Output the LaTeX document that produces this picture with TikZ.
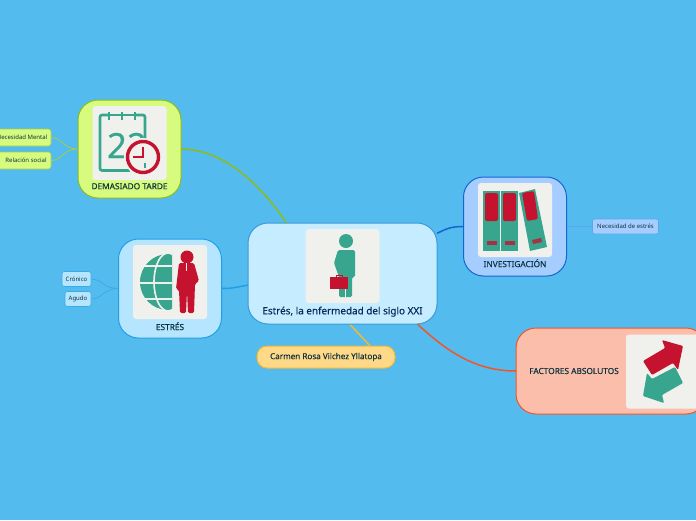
\documentclass[tikz,border=0pt]{standalone}
\usepackage{fontspec}
\setmainfont{Noto Sans}
\newfontfamily\heavyfont[FakeBold=0.25]{Noto Sans}
\usetikzlibrary{positioning, backgrounds}
\definecolor{skybg}{HTML}{54BBEE}
\definecolor{iconbg}{HTML}{F0F1ED}
\definecolor{tealicon}{HTML}{38A58E}
\definecolor{redicon}{HTML}{C5122F}
\definecolor{darktext}{HTML}{0D3340}
\definecolor{navytext}{HTML}{0B2A5B}
\definecolor{limefill}{RGB}{214,251,127}
\definecolor{limeline}{RGB}{141,187,26}
\definecolor{limethin}{RGB}{164,204,69}
\definecolor{paleblue}{RGB}{182,230,255}
\definecolor{skyline}{RGB}{31,160,230}
\definecolor{skythin}{RGB}{56,172,232}
\definecolor{bluefill}{RGB}{166,205,255}
\definecolor{blueline}{RGB}{21,101,208}
\definecolor{bluethin}{RGB}{90,167,238}
\definecolor{peachfill}{RGB}{251,190,170}
\definecolor{orangeline}{RGB}{240,86,42}
\definecolor{amberfill}{RGB}{255,217,136}
\definecolor{amberline}{RGB}{245,184,46}
\definecolor{mainfill}{RGB}{197,236,255}
\definecolor{mainline}{RGB}{59,154,216}
\tikzset{
    topicbox/.style={
        draw,
        line width=1pt,
        rounded corners=20pt,
        minimum width=#1,
        outer sep=0pt,
        inner sep=0pt
    },
    topicbox/.default=103pt,
    iconbox/.style={
        fill=iconbg,
        rounded corners=3pt,
        minimum width=74pt,
        minimum height=74pt,
        inner sep=0pt,
        outer sep=0pt
    },
    subbox/.style={
        draw,
        line width=0.6pt,
        rounded corners=2.5pt,
        text=darktext,
        font=\fontsize{6}{7}\selectfont,
        inner sep=0pt,
        outer sep=0pt,
        minimum height=15pt
    },
    toplabel/.style={font=\heavyfont\fontsize{8.3}{10}\selectfont, text=darktext, inner sep=0pt},
    link/.style={line width=1.5pt},
    sublink/.style={line width=0.8pt}
}
\begin{document}
\begin{tikzpicture}[x=1pt, y=-1pt]
\useasboundingbox (0,0) rectangle (696,520);

% main boxes
\node[topicbox=189pt, minimum height=101pt, fill=mainfill, draw=mainline] (central) at (342.5,273.5) {};
\node[topicbox, minimum height=98pt, fill=limefill, draw=limeline] (tarde) at (129.5,149) {};
\node[topicbox, minimum height=99pt, fill=paleblue, draw=skyline] (estres) at (170,288.5) {};
\node[topicbox, minimum height=99pt, fill=bluefill, draw=blueline] (investigacion) at (515,226.5) {};
\node[topicbox=190pt, minimum height=86pt, fill=peachfill, draw=orangeline] (factores) at (611,371) {};
\node[draw=amberline, line width=1pt, fill=amberfill, rounded corners=10pt, minimum width=138pt, minimum height=22pt, inner sep=0pt, outer sep=0pt, text=darktext, font=\heavyfont\fontsize{8.1}{10}\selectfont] (autora) at (326,357) {Carmen Rosa Vilchez Yllatopa};

% small boxes
\node[subbox, fill=limefill, draw=limethin, minimum width=70pt, minimum height=17pt] (mental) at (16,137.5) {\hspace*{12pt}Necesidad Mental};
\node[subbox, fill=limefill, draw=limethin, minimum width=70pt, minimum height=17pt] (social) at (16,160.5) {\hspace*{20pt}Relación social};
\node[subbox, fill=paleblue, draw=skythin, minimum width=29pt] (cronico) at (76.5,279) {Crónico};
\node[subbox, fill=paleblue, draw=skythin, minimum width=26pt, below=5pt of cronico.south east, anchor=north east] (agudo) {Agudo};
\node[subbox, fill=bluefill, draw=bluethin, minimum width=66pt, right=26pt of investigacion] (necesidad) {Necesidad de estrés};

% connectors
\begin{scope}[on background layer]
\fill[skybg] (0,0) rectangle (696,520);
\draw[link, limeline] (tarde.east) .. controls +(40,0) and +(-28,-42) .. (central.138.7);
\draw[link, skyline] (estres.east) .. controls +(12,0) and +(-12,2) .. (central.187.5);
\draw[link, blueline] (central.23.7) .. controls +(10,-5) and +(-12,0) .. (investigacion.west);
\draw[link, orangeline] (central.-34.9) .. controls +(30,28) and +(-40,0) .. (factores.west);
\draw[link, amberline] (central.-82.7) -- (autora.14.3);
\draw[sublink, limethin] (tarde.west) .. controls +(-16,0) and +(12,0) .. (mental.east);
\draw[sublink, limethin] (tarde.west) .. controls +(-16,0) and +(12,0) .. (social.east);
\draw[sublink, skythin] (estres.west) .. controls +(-16,0) and +(12,0) .. (cronico.east);
\draw[sublink, skythin] (estres.west) .. controls +(-16,0) and +(12,0) .. (agudo.east);
\draw[sublink, bluethin] (investigacion.east) -- (necesidad.west);
\end{scope}

% icon tiles and captions
\node[iconbox, below=6pt of central.north] (iconcentral) {};
\node[iconbox, below=6pt of tarde.north] (icontarde) {};
\node[iconbox, below=6pt of estres.north] (iconestres) {};
\node[iconbox, below=6pt of investigacion.north] (iconinvestigacion) {};
\node[iconbox, anchor=east] (iconfactores) at (700,371.5) {};
\node[toplabel, font=\heavyfont\fontsize{9.9}{12}\selectfont, text=navytext, below=3.5pt of iconcentral] (textcentral) {Estrés, la enfermedad del siglo XXI};
\node[toplabel, below=3pt of icontarde] (texttarde) {DEMASIADO TARDE};
\node[toplabel, below=3pt of iconestres] (textestres) {ESTRÉS};
\node[toplabel, below=2pt of iconinvestigacion] (textinvestigacion) {INVESTIGACIÓN};
\node[toplabel] (textfactores) at (574,371) {FACTORES ABSOLUTOS};

% person with case
\fill[tealicon] (346,241) circle (7);
\fill[tealicon, rounded corners=1.5pt] (338,250) -- (355,250) -- (355,277) -- (352,277) -- (352,297) -- (339,297) -- (339,277) -- (334,263) -- cycle;
\draw[iconbg, line width=0.5pt] (345.5,277) -- (345.5,297);
\fill[redicon] (330,277) rectangle (348,289);
\draw[redicon, line width=0.8pt] (336,277) -- (336,275) -- (342,275) -- (342,277);

% calendar
\draw[tealicon, line width=2.6pt, rounded corners=2pt] (109,115) -- (100,115) -- (100,170.5) -- (130,170.5);
\draw[tealicon, line width=2.6pt, rounded corners=2pt] (135,115) -- (145,115) -- (145,140);
\draw[tealicon, line width=2pt] (109,115) -- (135,115);
\foreach \ringx in {109,122,135}
    \draw[tealicon, line width=1.6pt] (\ringx,111.5) -- (\ringx,120);
\node[text=tealicon, font=\heavyfont\fontsize{35}{35}\selectfont, inner sep=0pt] (datenum) at (127,145.5) {22};
\fill[iconbg] (143,157) circle (19);
\draw[redicon, line width=3.4pt] (143,157) circle (15.5);
\draw[redicon, line width=1.8pt] (143,147) -- (143,157) -- (133,157);
\draw[tealicon, line width=1.4pt] (145,163) -- (145,168);

% globe and man
\begin{scope}
\clip (138,250) rectangle (172,315);
\fill[tealicon] (168,282) circle (28);
\draw[iconbg, line width=1.6pt] (168,282) ellipse (14 and 29);
\draw[iconbg, line width=1.6pt] (135,266) -- (175,266) (135,283) -- (175,283) (135,299) -- (175,299);
\end{scope}
\fill[redicon] (187,257) circle (6.5);
\fill[redicon, rounded corners=1.5pt] (179,263) -- (194,263) -- (199,281) -- (195,284) -- (194,313) -- (188,313) -- (187,291) -- (186,313) -- (180,313) -- (179,290) -- (176,289) -- cycle;
\draw[iconbg, line width=0.5pt] (186.5,263) -- (186.5,271);

% binders
\fill[tealicon] (483,191) rectangle (500,251);
\fill[tealicon] (501,191) rectangle (518,251);
\fill[tealicon] (519,193) -- (535,189) -- (547,247) -- (530,251) -- cycle;
\fill[redicon, rounded corners=2pt] (485,193) rectangle (498,221);
\fill[redicon, rounded corners=2pt] (503,193) rectangle (516,221);
\fill[redicon, rounded corners=2pt] (522,193) -- (534,191) -- (538,219) -- (527,221) -- cycle;
\fill[redicon!80!tealicon] (487,241) rectangle (497,245);
\fill[redicon!80!tealicon] (505,241) rectangle (515,245);
\fill[redicon!80!tealicon] (532,240) -- (541,238) -- (542,242) -- (533,244) -- cycle;

% swap arrows
\fill[redicon, rounded corners=1pt] (643,361) -- (665,348) -- (662,340) -- (683,346) -- (678,370) -- (673,363) -- (652,375) -- cycle;
\fill[tealicon, rounded corners=1pt] (643,396) -- (664,403) -- (662,395) -- (683,383) -- (675,367) -- (652,379) -- (647,373) -- cycle;
\end{tikzpicture}
\end{document}
